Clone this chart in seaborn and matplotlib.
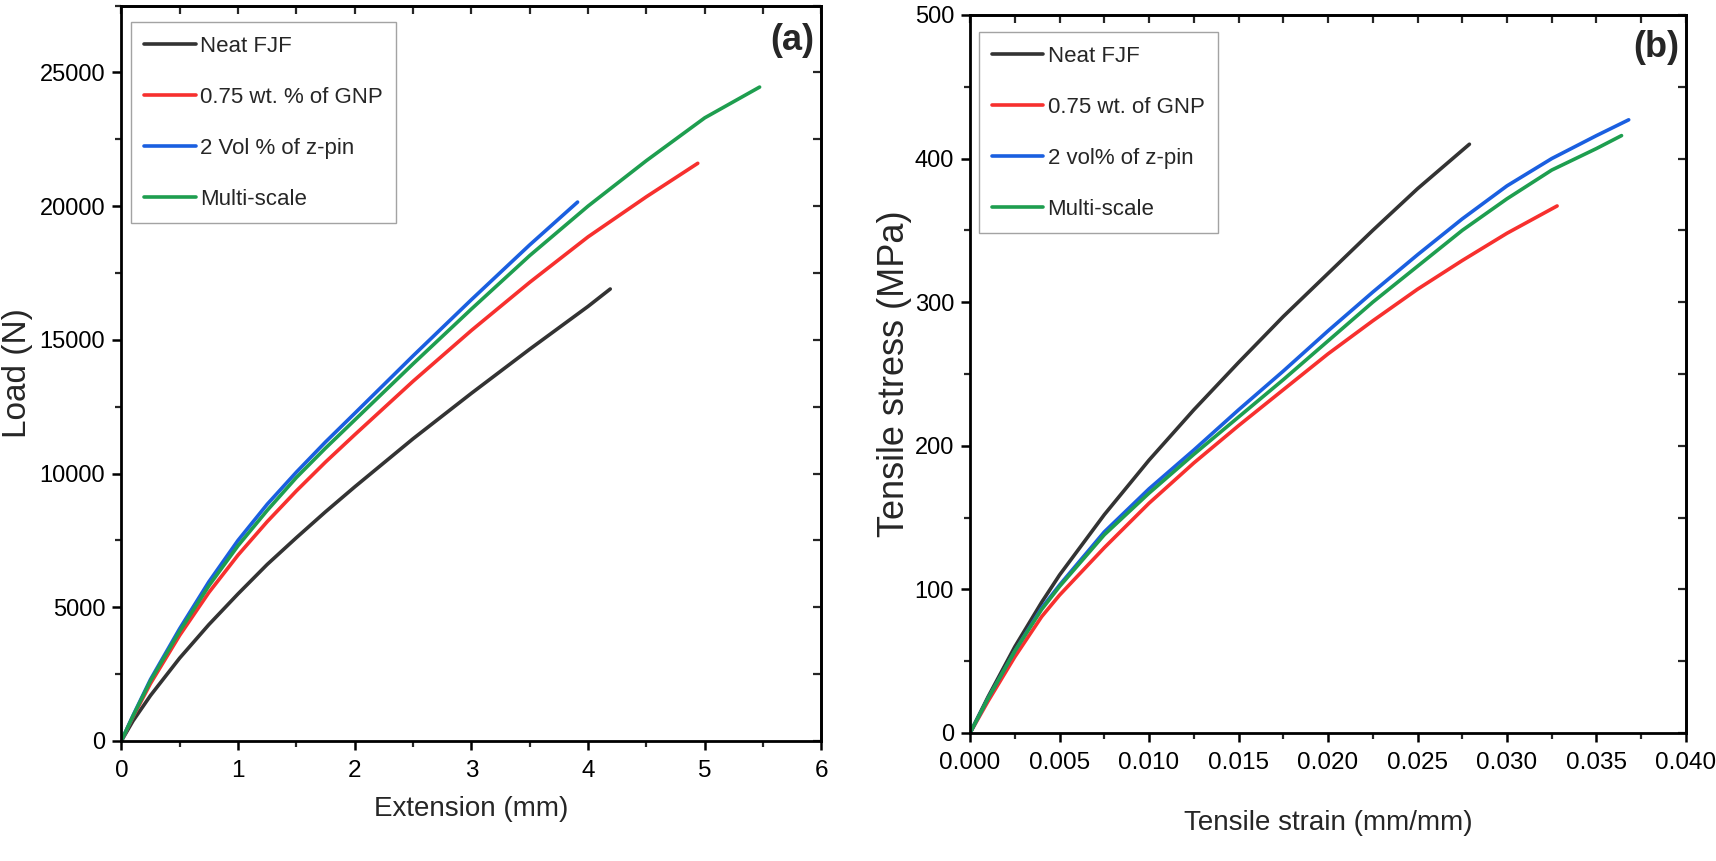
import numpy as np
import pandas as pd
import matplotlib
matplotlib.use("Agg")
import matplotlib.pyplot as plt
from matplotlib.ticker import MultipleLocator, FormatStrFormatter
import seaborn as sns

# ---- (a) load vs extension ----
ext_neat = [0, 0.1, 0.25, 0.5, 0.75, 1.0, 1.25, 1.5, 1.75, 2.0, 2.5, 3.0, 3.5, 4.0, 4.19]
load_neat = [0, 750, 1700, 3100, 4350, 5500, 6600, 7600, 8570, 9500, 11300, 13000, 14650, 16250, 16900]

ext_gnp = [0, 0.1, 0.25, 0.5, 0.75, 1.0, 1.25, 1.5, 1.75, 2.0, 2.5, 3.0, 3.5, 4.0, 4.5, 4.94]
load_gnp = [0, 900, 2150, 3950, 5550, 6950, 8200, 9350, 10430, 11450, 13450, 15350, 17150, 18850, 20350, 21600]

ext_zpin = [0, 0.1, 0.25, 0.5, 0.75, 1.0, 1.25, 1.5, 1.75, 2.0, 2.5, 3.0, 3.5, 3.91]
load_zpin = [0, 950, 2300, 4200, 5950, 7500, 8850, 10050, 11180, 12250, 14400, 16500, 18550, 20150]

ext_multi = [0, 0.1, 0.25, 0.5, 0.75, 1.0, 1.25, 1.5, 1.75, 2.0, 2.5, 3.0, 3.5, 4.0, 4.5, 5.0, 5.47]
load_multi = [0, 930, 2250, 4100, 5800, 7300, 8620, 9850, 10950, 12000, 14100, 16150, 18150, 20000, 21700, 23300, 24450]

labels_a = ["Neat FJF", "0.75 wt. % of GNP", "2 Vol % of z-pin", "Multi-scale"]

# ---- (b) tensile stress vs strain ----
strain_neat = [0, 0.001, 0.0025, 0.004, 0.005, 0.0075, 0.01, 0.0125, 0.015, 0.0175, 0.02, 0.0225, 0.025, 0.0279]
stress_neat = [0, 25, 60, 91, 110, 152, 190, 225, 258, 290, 320, 350, 379, 410]

strain_gnp = [0, 0.001, 0.0025, 0.004, 0.005, 0.0075, 0.01, 0.0125, 0.015, 0.0175, 0.02, 0.0225, 0.025, 0.0275, 0.03, 0.0328]
stress_gnp = [0, 22, 53, 81, 96, 129, 160, 188, 214, 239, 264, 287, 309, 329, 348, 367]

strain_zpin = [0, 0.001, 0.0025, 0.004, 0.005, 0.0075, 0.01, 0.0125, 0.015, 0.0175, 0.02, 0.0225, 0.025, 0.0275, 0.03, 0.0325, 0.035, 0.0368]
stress_zpin = [0, 24, 57, 87, 103, 140, 170, 197, 225, 252, 280, 307, 333, 358, 381, 400, 416, 427]

strain_multi = [0, 0.001, 0.0025, 0.004, 0.005, 0.0075, 0.01, 0.0125, 0.015, 0.0175, 0.02, 0.0225, 0.025, 0.0275, 0.03, 0.0325, 0.035, 0.0364]
stress_multi = [0, 24, 57, 86, 102, 138, 167, 194, 220, 246, 273, 300, 325, 350, 372, 392, 407, 416]

labels_b = ["Neat FJF", "0.75 wt. of GNP", "2 vol% of z-pin", "Multi-scale"]

colors = ["#333333", "#f7302e", "#1a5fe0", "#1e9e4f"]


def long_frame(xs, ys, names, xname, yname):
    parts = []
    for x, y, n in zip(xs, ys, names):
        parts.append(pd.DataFrame({xname: x, yname: y, "sample": n}))
    return pd.concat(parts, ignore_index=True)


df_a = long_frame([ext_neat, ext_gnp, ext_zpin, ext_multi],
                  [load_neat, load_gnp, load_zpin, load_multi],
                  labels_a, "ext", "load")
df_b = long_frame([strain_neat, strain_gnp, strain_zpin, strain_multi],
                  [stress_neat, stress_gnp, stress_zpin, stress_multi],
                  labels_b, "strain", "stress")

sns.set_style("ticks")
plt.rcParams["font.family"] = ["Liberation Sans", "DejaVu Sans"]
plt.rcParams["axes.linewidth"] = 2.0
plt.rcParams["xtick.labelsize"] = 17.5
plt.rcParams["ytick.labelsize"] = 17

fig = plt.figure(figsize=(17.16, 8.61), dpi=100)
ax1 = fig.add_axes([0.0707, 0.1394, 0.4080, 0.8542])
ax2 = fig.add_axes([0.5653, 0.1487, 0.4172, 0.8339])


def style_axes(ax, xmaj, xmin, ymaj, ymin):
    for sp in ax.spines.values():
        sp.set_visible(True)
        sp.set_color("black")
        sp.set_linewidth(2.0)
    ax.xaxis.set_major_locator(MultipleLocator(xmaj))
    ax.xaxis.set_minor_locator(MultipleLocator(xmin))
    ax.yaxis.set_major_locator(MultipleLocator(ymaj))
    ax.yaxis.set_minor_locator(MultipleLocator(ymin))
    ax.tick_params(which="major", direction="out", length=6.5, width=1.8,
                   pad=7, colors="black")
    ax.tick_params(axis="y", which="major", pad=5)
    ax.tick_params(which="minor", direction="out", length=4, width=1.6)
    # mirrored ticks pointing inwards on top and right
    top = ax.secondary_xaxis("top")
    top.xaxis.set_major_locator(MultipleLocator(xmaj))
    top.xaxis.set_minor_locator(MultipleLocator(xmin))
    top.tick_params(which="both", direction="in", length=6, width=1.6, labeltop=False)
    top.spines["top"].set_linewidth(2.0)
    right = ax.secondary_yaxis("right")
    right.yaxis.set_major_locator(MultipleLocator(ymaj))
    right.yaxis.set_minor_locator(MultipleLocator(ymin))
    right.tick_params(which="both", direction="in", length=6, width=1.6, labelright=False)
    right.spines["right"].set_linewidth(2.0)


legend_kws = dict(frameon=True, fancybox=False, edgecolor="#8c8c8c",
                  fontsize=16, handlelength=2.3, handletextpad=0.2,
                  labelspacing=1.35, borderpad=0.6, borderaxespad=0,
                  title=None)

# (a)
sns.lineplot(data=df_a, x="ext", y="load", hue="sample", hue_order=labels_a,
             palette=colors, estimator=None, sort=False, lw=2.6, ax=ax1)
ax1.set_xlim(0, 6)
ax1.set_ylim(0, 27500)
style_axes(ax1, 1, 0.5, 5000, 2500)
ax1.yaxis.set_major_formatter(FormatStrFormatter("%d"))
ax1.set_xlabel("Extension (mm)", fontsize=20, labelpad=10)
ax1.set_ylabel("Load (N)", fontsize=24)
ax1.yaxis.set_label_coords(-0.126, 0.5)
ax1.text(0.99, 0.976, "(a)", transform=ax1.transAxes, ha="right", va="top",
         fontsize=26, fontweight="bold")
sns.move_legend(ax1, "upper left", bbox_to_anchor=(0.014, 0.977), **legend_kws)
for line in ax1.get_legend().get_lines():
    line.set_linewidth(2.6)

# (b)
sns.lineplot(data=df_b, x="strain", y="stress", hue="sample", hue_order=labels_b,
             palette=colors, estimator=None, sort=False, lw=2.6, ax=ax2)
ax2.set_xlim(0, 0.04)
ax2.set_ylim(0, 500)
style_axes(ax2, 0.005, 0.0025, 100, 50)
ax2.xaxis.set_major_formatter(FormatStrFormatter("%.3f"))
ax2.set_xlabel("Tensile strain (mm/mm)", fontsize=20, labelpad=26)
ax2.set_ylabel("Tensile stress (MPa)", fontsize=26, labelpad=2)
ax2.text(0.99, 0.979, "(b)", transform=ax2.transAxes, ha="right", va="top",
         fontsize=26, fontweight="bold")
sns.move_legend(ax2, "upper left", bbox_to_anchor=(0.012, 0.976), **legend_kws)
for line in ax2.get_legend().get_lines():
    line.set_linewidth(2.6)

fig.savefig("out.png", dpi=100)
